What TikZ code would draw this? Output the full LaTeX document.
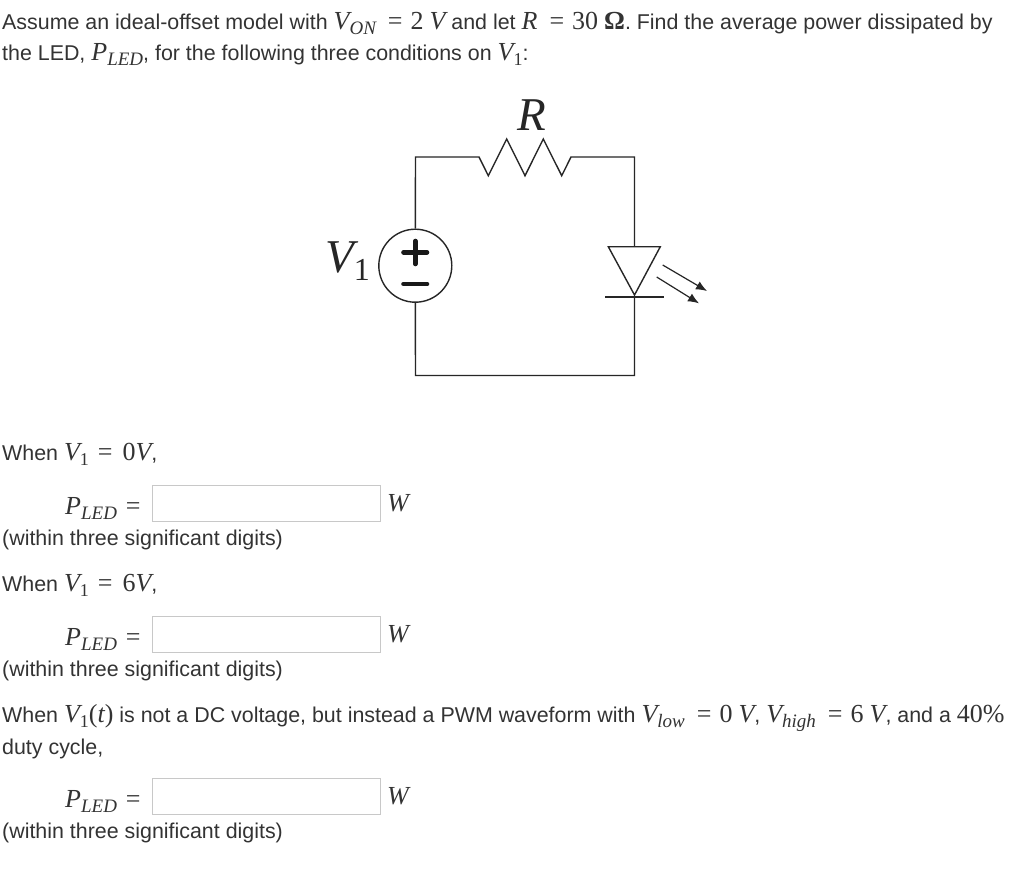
\documentclass[tikz,border=0pt]{standalone}
\usepackage{fontspec}
\setmainfont{Liberation Sans}
\newfontfamily\mth{Liberation Serif}
\usetikzlibrary{arrows.meta}
\definecolor{txt}{HTML}{333333}
\definecolor{boxc}{HTML}{C8C8C8}
\newcommand{\mfs}{\fontsize{26}{26}\selectfont}
\newcommand{\mi}[1]{{\mfs\mth\itshape #1}}
\newcommand{\mr}[1]{{\mfs\mth #1}}
\newcommand{\sbs}[1]{\raisebox{-5.5pt}{\fontsize{19}{19}\selectfont\mth\itshape #1}}
\newcommand{\sbr}[1]{\raisebox{-5.5pt}{\fontsize{18}{18}\selectfont\mth #1}}
\newcommand{\eq}{\hspace{12pt}\mr{=}\hspace{8pt}}
\newcommand{\eqb}{\hspace{9pt}\mr{=}\hspace{10pt}}
\newcommand{\eqc}{\hspace{9pt}\mr{=}\hspace{8pt}}
\newcommand{\gp}{\hspace{6pt}}
\tikzset{
  line/.style={anchor=base west,inner sep=0pt,text=txt,font=\fontsize{21.4}{26}\selectfont},
  ansbox/.style={draw=boxc,line width=1pt,fill=white,minimum width=228.5pt,minimum height=36.5pt,inner sep=0pt,anchor=north west},
  unit/.style={anchor=base west,inner sep=0pt,text=txt,font=\fontsize{26}{26}\selectfont\mth\itshape},
  wire/.style={draw=black!85,line width=1.4pt,line join=miter},
  big/.style={inner sep=0pt,text=black!85,font=\fontsize{47}{47}\selectfont\mth\itshape},
  sym/.style={draw=black!90,line width=4.6pt,line cap=round},
  ray/.style={draw=black!85,line width=1.2pt,-{Latex[length=11pt,width=9pt]}}
}
\begin{document}
\begin{tikzpicture}[x=1pt,y=-1pt]
\useasboundingbox (0,0) rectangle (1024,868);
\fill[white] (0,0) rectangle (1024,868);
% text
\node[line] (t1) at (2,29) {Assume an ideal-offset model with \mi{V}\sbs{ON}\eq\mr{2}\gp\mi{V} and let \mi{R}\eq\mr{30}\gp\textbf{\mr{Ω}}. Find the average power dissipated by};
\node[line] (t2) at (2,60) {the LED, \mi{P}\sbs{LED}, for the following three conditions on \mi{V}\sbr{1}:};
\node[line] (w0) at (2,460) {When \mi{V}\sbr{1}\eqb\mr{0}\mi{V},};
\node[line] (p1) at (65,514) {\mi{P}\sbs{LED}\eqc};
\node[ansbox] (b1) at (151.5,484.5) {};
\node[unit] (u1) at (387,511) {W};
\node[line] (d1) at (2,545) {(within three significant digits)};
\node[line] (w6) at (2,591) {When \mi{V}\sbr{1}\eqb\mr{6}\mi{V},};
\node[line] (p2) at (65,645) {\mi{P}\sbs{LED}\eqc};
\node[ansbox] (b2) at (151.5,615.5) {};
\node[unit] (u2) at (387,642) {W};
\node[line] (d2) at (2,676) {(within three significant digits)};
\node[line] (w3) at (2,722) {When \mi{V}\sbr{1}\mr{(}\mi{t}\mr{)} is not a DC voltage, but instead a PWM waveform with \mi{V}\sbs{low}\eq\mr{0}\gp\mi{V}, \mi{V}\sbs{high}\eq\mr{6}\gp\mi{V}, and a \mr{40\%}};
\node[line] (w4) at (2,754) {duty cycle,};
\node[line] (p3) at (65,807) {\mi{P}\sbs{LED}\eqc};
\node[ansbox] (b3) at (151.5,777.5) {};
\node[unit] (u3) at (387,804) {W};
\node[line] (d3) at (2,838) {(within three significant digits)};
% circuit
\coordinate (tl) at (415.5,157);
\coordinate (tr) at (634.5,157);
\coordinate (bl) at (415.5,375.5);
\coordinate (br) at (634.5,375.5);
\node[circle,draw=black!85,line width=1.4pt,minimum size=73pt,inner sep=0pt] (src) at (415.3,265.7) {};
\coordinate (ra) at (479,157);
\coordinate (rb) at (571,157);
\coordinate (ledt) at (634.5,246.7);
\coordinate (ledb) at (634.5,297);
\draw[wire] (src.north) -- (tl) -- (ra) -- (488.3,175.7) -- (506.7,139) -- (525,175.7) -- (543.3,139) -- (561.7,175.7) -- (rb) -- (tr) -- (ledt);
\draw[wire] (src.south) -- (bl) -- (br) -- (ledb);
\draw[wire] (608.3,246.7) -- (660.3,246.7) -- (634.5,295) -- cycle;
\draw[wire] (605,297) -- (663.5,297);
\coordinate (a1s) at (662.7,265);
\coordinate (a1e) at (707,291);
\coordinate (a2s) at (656.7,277);
\coordinate (a2e) at (699,303.3);
\draw[ray] (a1s) -- (a1e);
\draw[ray] (a2s) -- (a2e);
\draw[sym] (403.5,252.3) -- (427,252.3);
\draw[sym] (415.3,241) -- (415.3,264);
\draw[sym] (403.5,284) -- (427,284);
\node[big] (rl) at (532,115) {R};
\node[big,anchor=base west] (v1) at (325,272) {V\raisebox{-8pt}{\fontsize{32}{32}\selectfont\upshape 1}};
\end{tikzpicture}
\end{document}
